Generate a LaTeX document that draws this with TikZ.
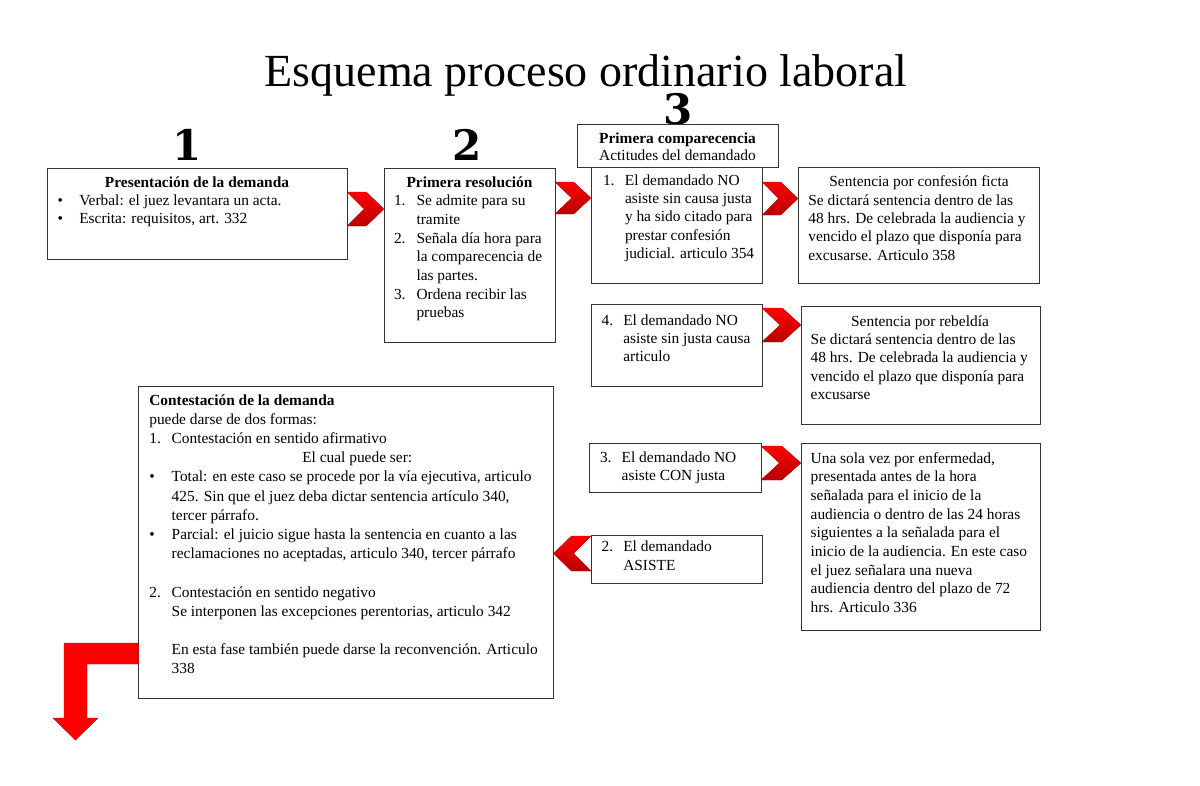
\documentclass[tikz,border=0pt]{standalone}
\usepackage{fontspec}
\setmainfont{Liberation Serif}
\newfontfamily\digitfont{DejaVu Serif}
\usetikzlibrary{calc}
\newcommand\itm[3]{\par\noindent\hangindent=#1\hangafter=1 \makebox[#1][l]{#2}#3\par}
\newcommand\bodyfont[1]{\fontsize{15.4}{#1}\selectfont}
\newcommand\chevR[4]{%
  \coordinate (cA) at (#1.east |- 0,#3);
  \coordinate (cB) at (#2.west |- 0,#3);
  \coordinate (cC) at (#1.east |- 0,#4);
  \coordinate (cD) at (#2.west |- 0,#4);
  \coordinate (cM) at ($(cA)!0.5!(cC)$);
  \coordinate (cN) at ($(cB)!0.5!(cD)$);
  \path[chev] (cA) -- ($(cA)!0.52!(cB)$) -- (cN) -- ($(cC)!0.52!(cD)$) -- (cC) -- ($(cM)!0.46!(cN)$) -- cycle;}
\newcommand\chevL[4]{%
  \coordinate (cA) at (#1.east |- 0,#3);
  \coordinate (cB) at (#2.west |- 0,#3);
  \coordinate (cC) at (#1.east |- 0,#4);
  \coordinate (cD) at (#2.west |- 0,#4);
  \coordinate (cM) at ($(cA)!0.5!(cC)$);
  \coordinate (cN) at ($(cB)!0.5!(cD)$);
  \path[chev] (cB) -- ($(cB)!0.52!(cA)$) -- (cM) -- ($(cD)!0.52!(cC)$) -- (cD) -- ($(cN)!0.46!(cM)$) -- cycle;}
\tikzset{
  box/.style={draw=black!80, line width=0.9pt, anchor=north west, inner sep=0pt, outer sep=0pt},
  txt/.style={anchor=base west, inner sep=0pt, outer sep=0pt},
  ttl/.style={anchor=base, inner sep=0pt, outer sep=0pt, font=\bfseries\bodyfont{18pt}},
  plain/.style={anchor=base, inner sep=0pt, outer sep=0pt, font=\bodyfont{18pt}},
  num/.style={anchor=base, inner sep=0pt, font=\digitfont\bfseries\fontsize{42}{46}\selectfont},
  chev/.style={top color=red, middle color=red, bottom color=red!72!black, draw=red!65!black, line width=0.3pt},
  bigarrow/.style={fill=red, draw=red!70!black, line width=0.4pt}
}
\begin{document}
\begin{tikzpicture}[x=1pt,y=-1pt]
\useasboundingbox (0,0) rectangle (1200,785);
\fill[white] (0,0) rectangle (1200,785);

\node[anchor=base, inner sep=0pt, font=\fontsize{46}{50}\selectfont] (title) at (586,86.5) {Esquema proceso ordinario laboral};

\node[num] (n1) at (187.5,160) {1};
\node[num] (n2) at (467,160) {2};
\node[num] (n3) at (678,124.5) {3};

% boxes
\node[box, minimum width=300pt, minimum height=91pt] (b1) at (47,168) {};
\node[box, minimum width=171pt, minimum height=174pt] (b2) at (384,168) {};
\node[box, minimum width=201pt, minimum height=43pt] (h3) at (577,124) {};
\node[box, minimum width=171pt, minimum height=116pt] (b3) at (591,167) {};
\node[box, minimum width=241pt, minimum height=116pt] (s1) at (798,167) {};
\node[box, minimum width=171pt, minimum height=82pt] (b4) at (591,304) {};
\node[box, minimum width=239pt, minimum height=118pt] (s2) at (801,306) {};
\node[box, minimum width=172pt, minimum height=49pt] (b5) at (589,443) {};
\node[box, minimum width=239pt, minimum height=187pt] (s3) at (801,443) {};
\node[box, minimum width=171pt, minimum height=48pt] (b6) at (591,535) {};
\node[box, minimum width=415pt, minimum height=312pt] (bc) at (138.5,386) {};

% box 1
\node[ttl] (t1h) at (197,187) {Presentación de la demanda};
\node[txt] (t1) at (57.5,205) {\parbox[t]{290pt}{\bodyfont{18.3pt}%
\itm{21.8pt}{•}{Verbal: el juez levantara un acta.}
\itm{21.8pt}{•}{Escrita: requisitos, art. 332}}};

% box 2
\node[ttl] (t2h) at (469.5,187) {Primera resolución};
\node[txt] (t2) at (394,205.7) {\parbox[t]{170pt}{\bodyfont{18.7pt}%
\itm{22.5pt}{1.}{Se admite para su\\tramite}
\itm{22.5pt}{2.}{Señala día hora para\\la comparecencia de\\las partes.}
\itm{22.5pt}{3.}{Ordena recibir las\\pruebas}}};

% header 3
\node[ttl] (t3h) at (677.5,143.3) {Primera comparecencia};
\node[plain] (t3s) at (677.5,160.7) {Actitudes del demandado};

% box 3
\node[txt] (t3) at (603,185) {\parbox[t]{170pt}{\bodyfont{18.4pt}%
\itm{22pt}{1.}{El demandado NO\\asiste sin causa justa\\y ha sido citado para\\prestar confesión\\judicial. articulo 354}}};

% sentencia ficta
\node[plain] (s1h) at (919,186.7) {Sentencia por confesión ficta};
\node[txt] (s1t) at (808.3,205) {\parbox[t]{240pt}{\bodyfont{18.35pt}%
Se dictará sentencia dentro de las\\48 hrs. De celebrada la audiencia y\\vencido el plazo que disponía para\\excusarse. Articulo 358}};

% box 4
\node[txt] (t4) at (601.7,325) {\parbox[t]{170pt}{\bodyfont{18.3pt}%
\itm{21.6pt}{4.}{El demandado NO\\asiste sin justa causa\\articulo}}};

% rebeldia
\node[plain] (s2h) at (920,326) {Sentencia por rebeldía};
\node[txt] (s2t) at (810.7,344.3) {\parbox[t]{240pt}{\bodyfont{18.4pt}%
Se dictará sentencia dentro de las\\48 hrs. De celebrada la audiencia y\\vencido el plazo que disponía para\\excusarse}};

% box 5
\node[txt] (t5) at (600,462.3) {\parbox[t]{170pt}{\bodyfont{18.4pt}%
\itm{21.7pt}{3.}{El demandado NO\\asiste CON justa}}};

% una sola vez
\node[txt] (s3t) at (810.7,463.3) {\parbox[t]{240pt}{\bodyfont{18.67pt}%
Una sola vez por enfermedad,\\presentada antes de la hora\\señalada para el inicio de la\\audiencia o dentro de las 24 horas\\siguientes a la señalada para el\\inicio de la audiencia. En este caso\\el juez señalara una nueva\\audiencia dentro del plazo de 72\\hrs. Articulo 336}};

% box 6
\node[txt] (t6) at (601.7,551.7) {\parbox[t]{170pt}{\bodyfont{19pt}%
\itm{21.6pt}{2.}{El demandado\\ASISTE}}};

% contestacion
\node[txt] (tc) at (149.3,405) {\parbox[t]{410pt}{\bodyfont{19.2pt}%
\textbf{Contestación de la demanda}\\
puede darse de dos formas:
\itm{22.4pt}{1.}{Contestación en sentido afirmativo}
\noindent\hspace*{153pt}El cual puede ser:\par
\itm{22.4pt}{•}{Total: en este caso se procede por la vía ejecutiva, articulo\\425. Sin que el juez deba dictar sentencia artículo 340,\\tercer párrafo.}
\itm{22.4pt}{•}{Parcial: el juicio sigue hasta la sentencia en cuanto a las\\reclamaciones no aceptadas, articulo 340, tercer párrafo}
\mbox{}\par
\itm{22.4pt}{2.}{Contestación en sentido negativo\\Se interponen las excepciones perentorias, articulo 342\\\mbox{}\\En esta fase también puede darse la reconvención. Articulo\\338}}};

% chevron connectors
\chevR{b1}{b2}{192}{226}
\chevR{b2}{b3}{182}{214}
\chevR{b3}{s1}{182}{215}
\chevR{b4}{s2}{308}{342}
\chevR{b5}{s3}{446}{480}
\chevL{bc}{b6}{536}{571}

% L arrow out of contestacion
\path[bigarrow] (bc.west |- 0,643) -- (64,643) -- (64,718) -- (53,718) -- (75.5,740) -- (98,718) -- (87,718) -- (87,664) -- (bc.west |- 0,664) -- cycle;
\end{tikzpicture}
\end{document}
